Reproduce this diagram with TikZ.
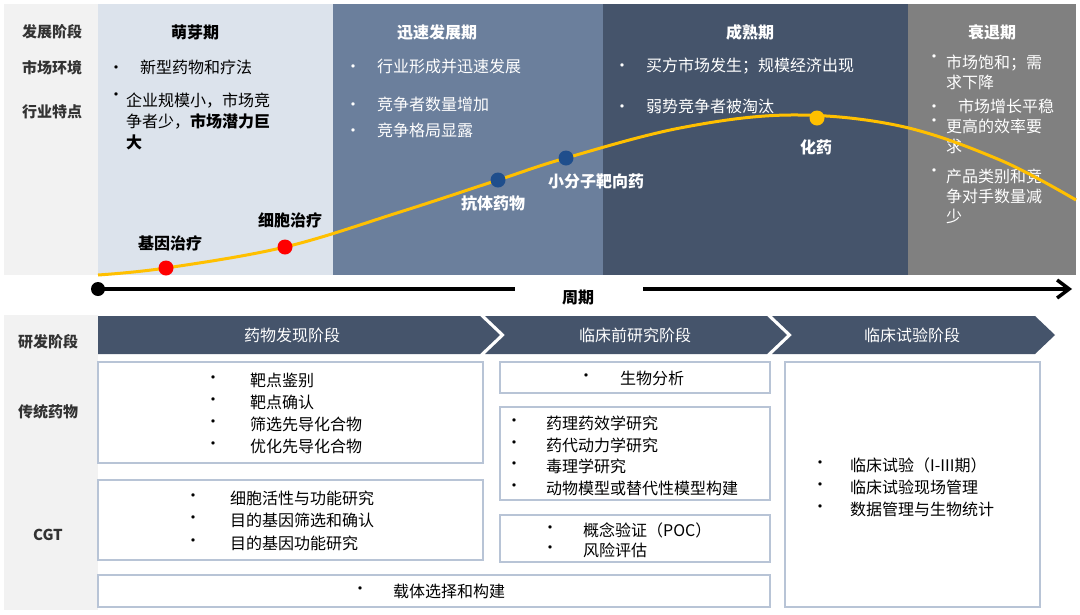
\documentclass[tikz,border=0pt]{standalone}
\usepackage{fontspec}
\setmainfont{Noto Sans CJK SC}[AutoFakeSlant=0.2]
\usetikzlibrary{arrows.meta}
\definecolor{lt}{HTML}{DCE3EC}
\definecolor{mid}{HTML}{6B7F9C}
\definecolor{dk}{HTML}{45546B}
\definecolor{gr}{HTML}{808080}
\definecolor{lg}{HTML}{F2F2F2}
\definecolor{yl}{HTML}{FFC000}
\definecolor{bd}{HTML}{B8C4D6}
\definecolor{bl}{HTML}{1F4E8C}
\begin{document}
\begin{tikzpicture}[x=1pt,y=-1pt,
 lab/.style={font=\bfseries\itshape\fontsize{15}{18}\selectfont,text=black!80},
 hd/.style={font=\bfseries\fontsize{16}{19}\selectfont},
 tx/.style={font=\fontsize{16}{21}\selectfont,anchor=west,align=left,inner sep=0},
 bx/.style={draw=bd,line width=1.5pt,fill=white},
 dot/.style={circle,minimum width=15pt,minimum height=11pt,inner sep=0},
 cv/.style={fill=dk,draw=none}]
\useasboundingbox (0,0) rectangle (1080,614);
\fill[white] (0,0) rectangle (1080,614);
% top panels
\fill[lg] (4,4) rectangle (98,275);
\fill[lt] (98,4) rectangle (333,275);
\fill[mid] (333,4) rectangle (603,275);
\fill[dk] (603,4) rectangle (908,275);
\fill[gr] (908,4) rectangle (1076,275);
\node[lab] (l1) at (52,32) {发展阶段};
\node[lab] (l2) at (52,68) {市场环境};
\node[lab] (l3) at (52,112) {行业特点};
\node[hd] (h1) at (195,32) {萌芽期};
\node[hd,white] (h2) at (437,32) {迅速发展期};
\node[hd,white] (h3) at (750,32) {成熟期};
\node[hd,white] (h4) at (992,32) {衰退期};
% panel texts
\node[tx] (p1a) at (108,67) {•\quad 新型药物和疗法};
\node[tx,anchor=north west] (p1b) at (108,93) {•};
\node[tx,anchor=north west] (p1c) at (126,93) {企业规模小，市场竞\\争者少，\textbf{市场潜力巨}\\\textbf{大}};
\begin{scope}[every node/.append style={white}]
\node[tx] (p2a) at (345,66) {•\quad 行业形成并迅速发展};
\node[tx] (p2b) at (345,104) {•\quad 竞争者数量增加};
\node[tx] (p2c) at (345,130) {•\quad 竞争格局显露};
\node[tx] (p3a) at (614,66) {•\quad 买方市场发生；规模经济出现};
\node[tx] (p3b) at (614,106) {•\quad 弱势竞争者被淘汰};
\node[tx,anchor=north west] (p4a) at (926,55) {•\\[-0pt]};
\node[tx,anchor=north west,font=\fontsize{16}{20}\selectfont] (p4t) at (946,55) {市场饱和；需\\求下降};
\node[tx] (p4b) at (926,106) {•\quad 市场增长平稳};
\node[tx,anchor=north west] (p4c) at (926,119) {•};
\node[tx,anchor=north west,font=\fontsize{16}{20}\selectfont] (p4ct) at (946,119) {更高的效率要\\求};
\node[tx,anchor=north west] (p4d) at (926,169) {•};
\node[tx,anchor=north west,font=\fontsize{16}{20}\selectfont] (p4dt) at (946,169) {产品类别和竞\\争对手数量减\\少};
\end{scope}
% curve
\draw[yl,line width=3pt] plot[smooth,tension=0.6] coordinates {(98,275) (166,268) (285,247) (400,212) (498,180) (566,158) (680,128) (790,115) (900,126) (1000,160) (1076,200)};
\node[dot,fill=red] (d1) at (166,268) {};
\node[dot,fill=red] (d2) at (285,247) {};
\node[dot,fill=bl] (d3) at (498,180) {};
\node[dot,fill=bl] (d4) at (566,158) {};
\node[dot,fill=yl] (d5) at (817,118) {};
\node[hd] (t1) at (170,243) {基因治疗};
\node[hd] (t2) at (290,220) {细胞治疗};
\node[hd,white] (t3) at (493,203) {抗体药物};
\node[hd,white] (t4) at (596,181) {小分子靶向药};
\node[hd,white] (t5) at (816,147) {化药};
% timeline
\node[circle,fill=black,minimum size=14pt,inner sep=0] (o) at (98,289) {};
\coordinate (e1) at (515,289);
\coordinate (s2) at (643,289);
\coordinate (e2) at (1072,289);
\draw[line width=3.5pt] (o.center) -- (e1);
\draw[line width=3.5pt,-{Straight Barb[length=12pt,width=18pt]}] (s2) -- (e2);
\node[hd] (zq) at (578,298) {周期};
% bottom
\fill[lg] (4,315) rectangle (98,610);
\node[lab] (l4) at (48,342) {研发阶段};
\node[lab] (l5) at (48,412) {传统药物};
\node[lab] (l6) at (48,535) {CGT};
\fill[cv] (98,316) -- (480,316) -- (500,335) -- (480,354) -- (98,354) -- cycle;
\fill[cv] (485,316) -- (767,316) -- (787,335) -- (767,354) -- (485,354) -- (505,335) -- cycle;
\fill[cv] (772,316) -- (1035,316) -- (1055,335) -- (1035,354) -- (772,354) -- (792,335) -- cycle;
\node[hd,white,font=\fontsize{16}{19}\selectfont] (c1) at (292,335) {药物发现阶段};
\node[hd,white,font=\fontsize{16}{19}\selectfont] (c2) at (635,335) {临床前研究阶段};
\node[hd,white,font=\fontsize{16}{19}\selectfont] (c3) at (912,335) {临床试验阶段};
\draw[bx] (98,362) rectangle (483,463);
\draw[bx] (98,480) rectangle (483,560);
\draw[bx] (98,575) rectangle (770,607);
\draw[bx] (500,362) rectangle (770,393);
\draw[bx] (500,407) rectangle (770,500);
\draw[bx] (500,515) rectangle (770,562);
\draw[bx] (785,362) rectangle (1040,607);
\foreach \y/\t [count=\i] in {380/靶点鉴别,402/靶点确认,424/筛选先导化合物,446/优化先导化合物}{
 \node[tx] (a\i) at (205,\y) {•}; \node[tx] (at\i) at (250,\y) {\t};}
\foreach \y/\t [count=\i] in {498/细胞活性与功能研究,520/目的基因筛选和确认,543/目的基因功能研究}{
 \node[tx] (b\i) at (185,\y) {•}; \node[tx] (bt\i) at (230,\y) {\t};}
\node[tx] (cb) at (352,591) {•}; \node[tx] (ct) at (393,591) {载体选择和构建};
\node[tx] (db) at (578,378) {•}; \node[tx] (dt) at (620,378) {生物分析};
\foreach \y/\t [count=\i] in {423/药理药效学研究,445/药代动力学研究,466/毒理学研究,488/动物模型或替代性模型构建}{
 \node[tx] (e\i) at (506,\y) {•}; \node[tx] (et\i) at (546,\y) {\t};}
\node[tx] (f1) at (542,530) {•}; \node[tx] (ft1) at (583,530) {概念验证（POC）};
\node[tx] (f2) at (542,550) {•}; \node[tx] (ft2) at (583,550) {风险评估};
\foreach \y/\t [count=\i] in {465/临床试验（I-III期）,487/临床试验现场管理,509/数据管理与生物统计}{
 \node[tx] (g\i) at (812,\y) {•}; \node[tx] (gt\i) at (850,\y) {\t};}
\end{tikzpicture}
\end{document}
